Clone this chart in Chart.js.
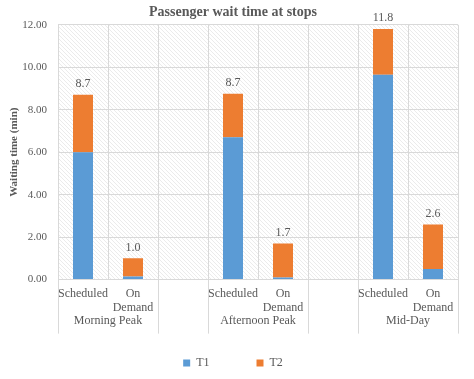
<!DOCTYPE html>
<html>
<head>
<meta charset="utf-8">
<script src="https://cdn.jsdelivr.net/npm/chart.js@4.4.0/dist/chart.umd.min.js"></script>
<style>
  html, body { margin:0; padding:0; background:#fff; }
  #wrap { width:474px; height:379px; }
</style>
</head>
<body>
<div id="wrap"><canvas id="c" width="474" height="379"></canvas></div>
<script>
// ===== DATA =====
const categories = ['Scheduled', ['On','Demand'], '', 'Scheduled', ['On','Demand'], '', 'Scheduled', ['On','Demand']];
const groups = ['Morning Peak', 'Afternoon Peak', 'Mid-Day'];
const groupStart = [0, 3, 6];   // first slot of each group
const groupEnd = [1, 4, 7];     // last slot of each group
const t1 = [6.0, 0.15, null, 6.7, 0.1, null, 9.65, 0.5];
const t2 = [2.7, 0.85, null, 2.05, 1.6, null, 2.15, 2.1];
const totals = ['8.7', '1.0', '', '8.7', '1.7', '', '11.8', '2.6'];
const yTicks = [0, 2, 4, 6, 8, 10, 12];

const grey = '#595959';
const serif = "'Liberation Serif', 'DejaVu Serif', serif";

// ===== HATCH BACKGROUND =====
function makeHatch(ctx){
  const p = document.createElement('canvas');
  p.width = 4; p.height = 4;
  const g = p.getContext('2d');
  g.fillStyle = '#ffffff';
  g.fillRect(0,0,4,4);
  g.strokeStyle = '#ebebeb';
  g.lineWidth = 1;
  g.beginPath();
  g.moveTo(0,0); g.lineTo(4,4);
  g.moveTo(-1,3); g.lineTo(1,5);
  g.moveTo(3,-1); g.lineTo(5,1);
  g.stroke();
  return ctx.createPattern(p,'repeat');
}

const hatchPlugin = {
  id:'hatch',
  beforeDraw(chart){
    const {ctx, chartArea:a} = chart;
    ctx.save();
    ctx.fillStyle = makeHatch(ctx);
    ctx.fillRect(a.left, a.top, a.right-a.left, a.bottom-a.top);
    ctx.restore();
  }
};

// ===== TOTAL LABELS + GROUP LABELS =====
const extraPlugin = {
  id:'extra',
  afterDraw(chart){
    const {ctx, chartArea:a} = chart;
    const x = chart.scales.x, y = chart.scales.y;
    ctx.save();
    ctx.fillStyle = grey;
    ctx.font = '12px ' + serif;
    ctx.textAlign = 'center';
    ctx.textBaseline = 'bottom';
    categories.forEach((c,i)=>{
      if(!totals[i]) return;
      const top = (t1[i]||0) + (t2[i]||0);
      ctx.fillText(totals[i], x.getPixelForValue(i), y.getPixelForValue(top) - 5);
    });

    // group labels & separators
    const half = (x.getPixelForValue(1) - x.getPixelForValue(0)) / 2;
    ctx.strokeStyle = '#d9d9d9';
    ctx.lineWidth = 1;
    const seps = new Set();
    groups.forEach((g,k)=>{
      const l = x.getPixelForValue(groupStart[k]) - half;
      const r = x.getPixelForValue(groupEnd[k]) + half;
      seps.add(Math.round(l)); seps.add(Math.round(r));
      ctx.textBaseline = 'middle';
      ctx.fillText(g, (l+r)/2, a.bottom + 41);
    });
    seps.forEach(px=>{
      ctx.beginPath();
      ctx.moveTo(px+0.5, a.bottom);
      ctx.lineTo(px+0.5, a.bottom + 54);
      ctx.stroke();
    });
    ctx.restore();
  }
};

new Chart(document.getElementById('c'), {
  type:'bar',
  data:{
    labels: categories,
    datasets:[
      { label:'T1', data:t1, backgroundColor:'#5B9BD5', barPercentage:0.4, categoryPercentage:1.0 },
      { label:'T2', data:t2, backgroundColor:'#ED7D31', barPercentage:0.4, categoryPercentage:1.0 }
    ]
  },
  options:{
    responsive:false,
    animation:false,
    layout:{ padding:{ left:8, right:16, top:0, bottom:0 } },
    plugins:{
      title:{
        display:true,
        text:'Passenger wait time at stops',
        color:grey,
        font:{ family:serif, size:14, weight:'bold' },
        padding:{ top:4, bottom:4 }
      },
      legend:{
        position:'bottom',
        labels:{
          color:grey,
          font:{ family:serif, size:12 },
          boxWidth:7, boxHeight:7,
          padding:8,
          generateLabels(chart){
            return chart.data.datasets.map((d,i)=>({
              text: i === 0 ? d.label + '             ' : d.label,
              fillStyle:d.backgroundColor,
              strokeStyle:d.backgroundColor,
              lineWidth:0,
              datasetIndex:i,
              fontColor:grey
            }));
          }
        }
      },
      tooltip:{ enabled:false }
    },
    scales:{
      x:{
        stacked:true,
        grid:{ offset:true, color:'#d9d9d9', drawTicks:false },
        border:{ color:'#d9d9d9' },
        ticks:{ color:grey, font:{ family:serif, size:12, lineHeight:1.1 }, padding:8, maxRotation:0, autoSkip:false },
        afterFit(s){ s.height += 27; }
      },
      y:{
        stacked:true,
        min:0, max:12,
        afterBuildTicks(s){ s.ticks = yTicks.map(v=>({value:v})); },
        afterFit(s){ s.width = 50; },
        grid:{ color:'#d9d9d9', drawTicks:false },
        border:{ display:false },
        ticks:{ color:grey, font:{ family:serif, size:11 }, padding:11, callback:v=>v.toFixed(2) },
        title:{ display:true, text:'Waiting time (min)', color:grey, font:{ family:serif, size:11, weight:'bold' }, padding:{ top:0, bottom:0 } }
      }
    }
  },
  plugins:[hatchPlugin, extraPlugin]
});
</script>
</body>
</html>
